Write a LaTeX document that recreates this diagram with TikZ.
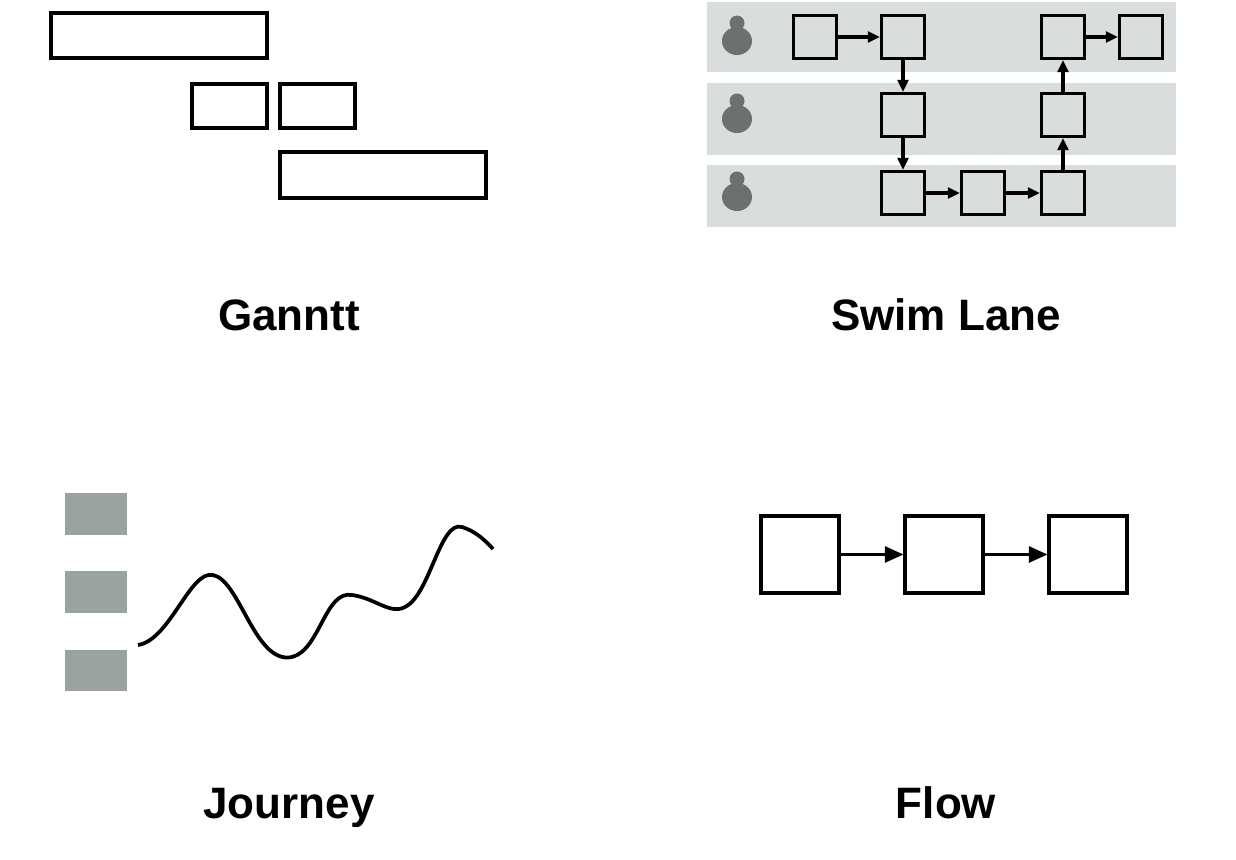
\documentclass[tikz,border=0pt]{standalone}
\usepackage{fontspec}
\setmainfont{Liberation Sans}
\usetikzlibrary{arrows.meta}
\begin{document}
\begin{tikzpicture}[x=0.75pt,y=-0.75pt,
  box/.style={draw=black,line width=2.8pt,fill=none},
  sbox/.style={draw=black,line width=2.6pt,fill=none,minimum width=32pt,minimum height=32pt,inner sep=0pt},
  fbox/.style={draw=black,line width=2.8pt,minimum width=58pt,minimum height=58pt,inner sep=0pt},
  lane/.style={fill=lanegray,draw=none},
  jr/.style={fill=jgray,draw=none},
  arr/.style={-{Triangle[length=9pt,width=8pt]},line width=2.3pt},
  title/.style={font=\fontsize{33}{36}\selectfont\bfseries,anchor=base}]
\definecolor{lanegray}{HTML}{D9DEDD}
\definecolor{jgray}{HTML}{9AA3A0}
\definecolor{pgray}{HTML}{6B7170}
\useasboundingbox (0,0) rectangle (1236,860);
% Gantt
\draw[box] (51,13) rectangle (267,58);
\draw[box] (192,84) rectangle (267,128);
\draw[box] (280,84) rectangle (355,128);
\draw[box] (280,152) rectangle (486,198);
\node[title] (g) at (289,330) {Ganntt};
% Swim lanes
\fill[lane] (707,2) rectangle (1176,72);
\fill[lane] (707,83) rectangle (1176,155);
\fill[lane] (707,165) rectangle (1176,227);
\foreach \y in {37,115,193}{
  \fill[pgray] (737,\y-14) circle (7.5);
  \fill[pgray] (737,\y+4) ellipse (15 and 14);
}
\node[sbox] (a1) at (815,37) {};
\node[sbox] (a2) at (903,37) {};
\node[sbox] (a3) at (1063,37) {};
\node[sbox] (a4) at (1141,37) {};
\node[sbox] (b1) at (903,115) {};
\node[sbox] (b2) at (1063,115) {};
\node[sbox] (c1) at (903,193) {};
\node[sbox] (c2) at (983,193) {};
\node[sbox] (c3) at (1063,193) {};
\draw[arr] (a1) -- (a2);
\draw[arr] (a2) -- (b1);
\draw[arr] (b1) -- (c1);
\draw[arr] (c1) -- (c2);
\draw[arr] (c2) -- (c3);
\draw[arr] (c3) -- (b2);
\draw[arr] (b2) -- (a3);
\draw[arr] (a3) -- (a4);
\node[title] (s) at (946,330) {Swim Lane};
% Journey
\fill[jr] (65,493) rectangle (127,535);
\fill[jr] (65,571) rectangle (127,613);
\fill[jr] (65,650) rectangle (127,691);
\draw[line width=2.8pt] (138,645) .. controls (170,640) and (190,570) .. (213,575)
  .. controls (240,580) and (255,665) .. (292,657)
  .. controls (320,650) and (325,590) .. (352,595)
  .. controls (375,598) and (390,615) .. (405,607)
  .. controls (430,595) and (440,520) .. (462,527)
  .. controls (475,531) and (485,540) .. (493,549);
\node[title] (j) at (289,818) {Journey};
% Flow
\node[fbox] (f1) at (800,554.5) {};
\node[fbox] (f2) at (944,554.5) {};
\node[fbox] (f3) at (1088,554.5) {};
\draw[arr,-{Triangle[length=14pt,width=12pt]}] (f1) -- (f2);
\draw[arr,-{Triangle[length=14pt,width=12pt]}] (f2) -- (f3);
\node[title] (fl) at (946,818) {Flow};
\end{tikzpicture}
\end{document}
